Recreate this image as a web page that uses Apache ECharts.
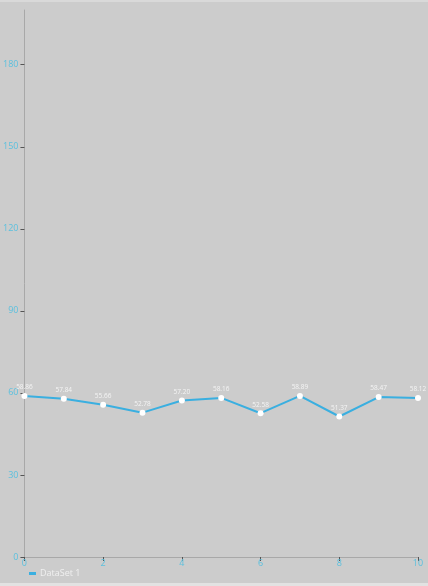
<!DOCTYPE html>
<html><head><meta charset="utf-8">
<script src="https://cdn.jsdelivr.net/npm/echarts@6/dist/echarts.min.js"></script>
<style>html,body{margin:0;padding:0;background:#cccccc;}#c{width:428px;height:586px;}</style>
</head><body><div id="c"></div>
<script>
const xValues = [0,1,2,3,4,5,6,7,8,9,10];
const yValues = [58.86,57.84,55.66,52.78,57.20,58.16,52.58,58.89,51.37,58.47,58.12];
const yTickLabels = [0,30,60,90,120,150,180];
const xTickLabels = [0,2,4,6,8,10];
const seriesName = 'DataSet 1';

const chart = echarts.init(document.getElementById('c'), null, {renderer:'canvas'});
const labelColor = '#5bc0de';
const lineColor = '#3aafe0';
chart.setOption({
  backgroundColor: '#cccccc',
  animation: false,
  graphic: [
    {type: 'rect', left: 0, top: 0, shape: {width: 428, height: 2}, style: {fill: '#d9d9d9'}, silent: true},
    {type: 'rect', left: 0, bottom: 0, shape: {width: 428, height: 3}, style: {fill: '#e2e2e2'}, silent: true}
  ],
  grid: {left: 24, right: 10, top: 10, bottom: 29, containLabel: false},
  legend: {
    left: 24, bottom: 3, itemWidth: 7, itemHeight: 3, icon: 'rect', itemGap: 4,
    itemStyle: {color: lineColor},
    textStyle: {color: '#f0f0f0', fontSize: 9, fontFamily: 'Open Sans', padding: [0,0,0,-1]},
    data: [seriesName]
  },
  xAxis: {
    type: 'value', min: 0, max: 10, interval: 2,
    axisLine: {lineStyle: {color: '#a8a8a8', width: 1}},
    axisTick: {show: true, length: 4, lineStyle: {color: '#555'}},
    axisLabel: {color: labelColor, fontSize: 9, margin: 2, fontFamily: 'Open Sans', customValues: xTickLabels},
    splitLine: {show: false}
  },
  yAxis: {
    type: 'value', min: 0, max: 200, interval: 30,
    axisLine: {show: true, lineStyle: {color: '#a8a8a8', width: 1}},
    axisTick: {show: true, length: 4, lineStyle: {color: '#555'}, customValues: yTickLabels},
    axisLabel: {color: labelColor, fontSize: 9, margin: 6, fontFamily: 'Open Sans', customValues: yTickLabels},
    splitLine: {show: false}
  },
  series: [{
    name: seriesName,
    type: 'line',
    data: xValues.map((x, i) => [x, yValues[i]]),
    color: lineColor,
    lineStyle: {width: 2, color: lineColor},
    symbol: 'circle', symbolSize: 6,
    itemStyle: {color: '#ffffff', borderColor: '#ffffff', borderWidth: 0},
    label: {
      show: true, position: 'top', distance: 2,
      color: '#f4f4f4', fontSize: 6.5, fontFamily: 'Open Sans',
      formatter: p => p.value[1].toFixed(2)
    }
  }]
});
</script></body></html>
